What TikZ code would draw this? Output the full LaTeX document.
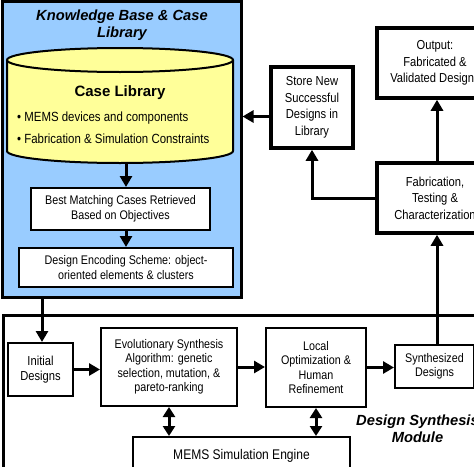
\documentclass[tikz,border=0pt]{standalone}
\usepackage{fontspec}
\setmainfont{Liberation Sans}
\newfontfamily\nfont{Liberation Sans}[FakeStretch=0.86]
\usetikzlibrary{arrows.meta,calc}
\definecolor{kbblue}{HTML}{99CCFF}
\definecolor{cylyellow}{HTML}{FFFF99}
\begin{document}
\begin{tikzpicture}[x=1pt,y=-1pt,
  box/.style={draw, line width=2pt, fill=white, inner sep=0pt, align=center,
    font=\nfont\fontsize{12.5}{14.5}\selectfont},
  thickbox/.style={box, line width=3.5pt, font=\nfont\fontsize{13}{16.5}\selectfont},
  arr/.style={line width=3pt, -{Triangle[length=11pt,width=12pt]}},
  darr/.style={line width=3pt, {Triangle[length=10pt,width=12pt]}-{Triangle[length=10pt,width=12pt]}},
  titletext/.style={font=\bfseries\itshape\fontsize{14.7}{16.5}\selectfont, align=center}]

\clip (0,0) rectangle (474,466);
\fill[white] (0,0) rectangle (474,466);

% Knowledge base panel
\node[draw, line width=3pt, fill=kbblue, minimum width=238.5pt, minimum height=295.5pt, inner sep=0pt] (kb) at (121.75,149.25) {};
\node[titletext] (kbt) at (122,25) {Knowledge Base \& Case\\Library};

% cylinder
\fill[cylyellow] (7,60) -- (7,151) arc[start angle=180, end angle=360, x radius=113pt, y radius=12pt] -- (233,60) -- cycle;
\draw[line width=2pt] (7,60) -- (7,151) arc[start angle=180, end angle=360, x radius=113pt, y radius=12pt] -- (233,60);
\draw[line width=2pt, fill=cylyellow] (120,60) ellipse [x radius=113pt, y radius=12pt];
\node[inner sep=0pt, minimum width=226pt, minimum height=115pt] (cyl) at (120,105.5) {};
\node[font=\bfseries\fontsize{15}{18}\selectfont] (cyltitle) at (120,93) {Case Library};
\node[font=\nfont\fontsize{13.3}{22}\selectfont, align=left, anchor=west, inner sep=0pt] (cylitems) at (17,128) {•\ MEMS devices and components\\•\ Fabrication \& Simulation Constraints};

\node[box, minimum width=179pt, minimum height=42pt] (best) at (120.5,209) {Best Matching Cases Retrieved\\Based on Objectives};
\node[box, minimum width=214pt, minimum height=39pt] (enc) at (126,267.5) {Design Encoding Scheme: object-\\oriented elements \& clusters};

% Design synthesis module
\node[draw, line width=3pt, inner sep=0pt, minimum width=517pt, minimum height=205pt] (dsm) at (261.5,417.5) {};

\node[box, font=\nfont\fontsize{13}{15}\selectfont, minimum width=65pt, minimum height=53pt] (init) at (40.5,369.5) {Initial\\Designs};
\node[box, minimum width=136pt, minimum height=78pt] (evol) at (169,367) {Evolutionary Synthesis\\Algorithm: genetic\\selection, mutation, \&\\pareto-ranking};
\node[box, minimum width=100pt, minimum height=79pt] (local) at (316,367.5) {Local\\Optimization \&\\Human\\Refinement};
\node[box, minimum width=79pt, minimum height=43pt] (synth) at (434.5,366.5) {Synthesized\\Designs};
\node[box, font=\nfont\fontsize{14}{16}\selectfont, minimum width=217pt, minimum height=38pt] (mems) at (241.5,456) {MEMS Simulation Engine};
\node[titletext] (dsml) at (417.5,428.5) {Design Synthesis\\Module};

% right column
\node[thickbox, minimum width=82pt, minimum height=81pt] (store) at (312,107.5) {Store New\\Successful\\Designs in\\Library};
\node[thickbox, minimum width=116pt, minimum height=70pt] (out) at (435,63) {Output:\\Fabricated \&\\Validated Designs};
\node[thickbox, minimum width=116pt, minimum height=70pt] (fab) at (435,198) {Fabrication,\\Testing \&\\Characterization};

\coordinate (kbx) at (42,0);
\coordinate (vx) at (437,0);

% connectors
\draw[arr] (cyl.south -| enc.north) -- (best.north -| enc.north);
\draw[arr] (best.south -| enc.north) -- (enc.north);
\draw[arr] (kbx |- kb.south) -- (kbx |- init.north);
\draw[arr] (init.east) -- (init.east -| evol.west);
\draw[arr] (evol.east) -- (evol.east -| local.west);
\draw[arr] (local.east) -- (local.east -| synth.west);
\draw[darr] (evol.south) -- (evol.south |- mems.north);
\draw[darr] (local.south) -- (local.south |- mems.north);
\draw[arr] (vx |- synth.north) -- (vx |- fab.south);
\draw[arr] (vx |- fab.north) -- (vx |- out.south);
\draw[arr] (fab.west) -- (fab.west -| store.south) -- (store.south);
\draw[arr] ([yshift=-9pt]store.west) -- ([yshift=-9pt]store.west -| kb.east);
\end{tikzpicture}
\end{document}
